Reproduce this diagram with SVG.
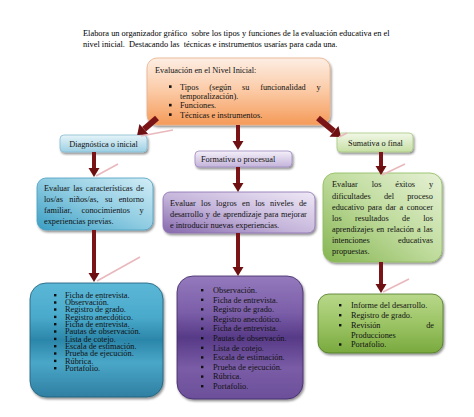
<svg xmlns="http://www.w3.org/2000/svg" width="474" height="417" viewBox="0 0 474 417">
<defs>
<style>
text{font-family:"Liberation Serif","Times New Roman",serif;font-size:8.3px;fill:#111;}
.ttl{font-size:8.4px;fill:#000;white-space:pre;}
.sh{stroke-width:0.8;filter:url(#ds);}
.bul{fill:#111;}
.shaft{stroke:#7a1416;stroke-width:4;fill:none;}
.shaftD{stroke:#7a1416;stroke-width:6;fill:none;}
.pink{stroke:#e9b8bd;stroke-width:1.6;fill:none;}
</style>
<filter id="ds" x="-10%" y="-10%" width="125%" height="130%">
<feDropShadow dx="1.2" dy="1.8" stdDeviation="1" flood-color="#000" flood-opacity="0.45"/>
</filter>
<marker id="ah" markerUnits="userSpaceOnUse" markerWidth="12" markerHeight="14" viewBox="0 -7 10 14" refX="0" refY="0" orient="auto">
<path d="M0,-5.5 L9,0 L0,5.5 z" fill="#6e1012"/>
</marker>
<marker id="ahD" markerUnits="userSpaceOnUse" markerWidth="12" markerHeight="16" viewBox="0 -8 10 16" refX="0" refY="0" orient="auto">
<path d="M0,-7 L9,0 L0,7 z" fill="#6e1012"/>
</marker>
<linearGradient id="gOr" x1="0" y1="0" x2="0" y2="1">
<stop offset="0" stop-color="#fdeee4"/><stop offset="0.5" stop-color="#fbc9a4"/><stop offset="1" stop-color="#f59a58"/>
</linearGradient>
<linearGradient id="gBlS" x1="0" y1="0" x2="0" y2="1">
<stop offset="0" stop-color="#e6f4f9"/><stop offset="1" stop-color="#9ccfe3"/>
</linearGradient>
<linearGradient id="gPuS" x1="0" y1="0" x2="0" y2="1">
<stop offset="0" stop-color="#f4f0f9"/><stop offset="1" stop-color="#c3b3da"/>
</linearGradient>
<linearGradient id="gGrS" x1="0" y1="0" x2="0" y2="1">
<stop offset="0" stop-color="#f2f8e8"/><stop offset="1" stop-color="#c6dfa4"/>
</linearGradient>
<linearGradient id="gBlD" x1="0" y1="1" x2="1" y2="0">
<stop offset="0" stop-color="#3a9ec3"/><stop offset="0.5" stop-color="#8fcce2"/><stop offset="1" stop-color="#d2edf6"/>
</linearGradient>
<linearGradient id="gPuD" x1="0" y1="1" x2="1" y2="0">
<stop offset="0" stop-color="#8568ad"/><stop offset="0.45" stop-color="#c4b4da"/><stop offset="1" stop-color="#efe9f6"/>
</linearGradient>
<linearGradient id="gGrD" x1="0" y1="1" x2="1" y2="0">
<stop offset="0" stop-color="#86b552"/><stop offset="0.5" stop-color="#bfdb9c"/><stop offset="1" stop-color="#e6f1d6"/>
</linearGradient>
<linearGradient id="gBlL" x1="0" y1="0" x2="0" y2="1">
<stop offset="0" stop-color="#5cb7d6"/><stop offset="0.3" stop-color="#4aaacc"/><stop offset="0.5" stop-color="#2b86aa"/><stop offset="0.7" stop-color="#4aa7c8"/><stop offset="1" stop-color="#2f7fa2"/>
</linearGradient>
<linearGradient id="gPuL" x1="0" y1="0" x2="0" y2="1">
<stop offset="0" stop-color="#9479bd"/><stop offset="0.3" stop-color="#7b5ea8"/><stop offset="0.5" stop-color="#573a87"/><stop offset="0.75" stop-color="#7a5ca6"/><stop offset="1" stop-color="#6c4f9a"/>
</linearGradient>
<linearGradient id="gGrL" x1="0" y1="0" x2="0" y2="1">
<stop offset="0" stop-color="#b8d88a"/><stop offset="0.5" stop-color="#9cc465"/><stop offset="1" stop-color="#79a93e"/>
</linearGradient>
</defs>
<rect width="474" height="417" fill="#ffffff"/>

<g id="title">
<text class="ttl" x="83" y="36">Elabora un organizador gráfico  sobre los tipos y funciones de la evaluación educativa en el</text>
<text class="ttl" x="83" y="47">nivel inicial.  Destacando las  técnicas e instrumentos usarías para cada una.</text>
</g>

<g id="node-root">
<rect class="sh" x="147" y="58" width="183" height="67" rx="10" fill="url(#gOr)" stroke="#eab08a"/>
<text x="155" y="73">Evaluación en el Nivel Inicial:</text>
<rect class="bul" x="169" y="85.3" width="2.6" height="2.6"/>
<text x="180" y="89.5" word-spacing="8.6">Tipos (según su funcionalidad y</text>
<text x="180" y="98.5">temporalización).</text>
<rect class="bul" x="169" y="103.8" width="2.6" height="2.6"/>
<text x="180" y="108">Funciones.</text>
<rect class="bul" x="169" y="113.3" width="2.6" height="2.6"/>
<text x="180" y="117.5">Técnicas e instrumentos.</text>
</g>

<g id="node-diagnostica">
<rect class="sh" x="60" y="135" width="87" height="17" rx="4" fill="url(#gBlS)" stroke="#86bdd2"/>
<text x="103.5" y="146.5" text-anchor="middle">Diagnóstica o inicial</text>
</g>

<g id="node-formativa">
<rect class="sh" x="195" y="151" width="97" height="16" rx="4" fill="url(#gPuS)" stroke="#9d8abf"/>
<text x="201" y="162">Formativa o procesual</text>
</g>

<g id="node-sumativa">
<rect class="sh" x="337" y="133" width="76" height="19" rx="4" fill="url(#gGrS)" stroke="#a7c882"/>
<text x="375.5" y="145.5" text-anchor="middle">Sumativa o final</text>
</g>

<g id="node-desc-diag">
<rect class="sh" x="37" y="178" width="116" height="52" rx="9" fill="url(#gBlD)" stroke="#4aa0c2"/>
<text x="44" y="191" word-spacing="1.3">Evaluar las características de</text>
<text x="44" y="202" word-spacing="4.3">los/as niños/as, su entorno</text>
<text x="44" y="213" word-spacing="7.5">familiar, conocimientos y</text>
<text x="44" y="224">experiencias previas.</text>
</g>

<g id="node-desc-form">
<rect class="sh" x="163" y="192" width="152" height="41" rx="7" fill="url(#gPuD)" stroke="#8a70b0"/>
<text x="170" y="206" word-spacing="3.2">Evaluar los logros en los niveles de</text>
<text x="170" y="217" word-spacing="0.6">desarrollo y de aprendizaje para mejorar</text>
<text x="170" y="228">e introducir nuevas experiencias.</text>
</g>

<g id="node-desc-sum">
<rect class="sh" x="323" y="173" width="119" height="89" rx="12" fill="url(#gGrD)" stroke="#8ebb5c"/>
<text x="332" y="187" word-spacing="11.8">Evaluar los éxitos y</text>
<text x="332" y="198.5" word-spacing="11.1">dificultades del proceso</text>
<text x="332" y="209.5" word-spacing="1.4">educativo para dar a conocer</text>
<text x="332" y="221" word-spacing="11.3">los resultados de los</text>
<text x="332" y="232" word-spacing="0.9">aprendizajes en relación a las</text>
<text x="332" y="243" word-spacing="26.1">intenciones educativas</text>
<text x="332" y="253.5">propuestas.</text>
</g>

<g id="node-list-diag">
<rect class="sh" x="30" y="283" width="133" height="114" rx="16" fill="url(#gBlL)" stroke="#1f5e78"/>
<g class="bul">
<rect x="54" y="294" width="2.4" height="2.4"/><rect x="54" y="301.3" width="2.4" height="2.4"/><rect x="54" y="308.3" width="2.4" height="2.4"/><rect x="54" y="315.7" width="2.4" height="2.4"/><rect x="54" y="323" width="2.4" height="2.4"/><rect x="54" y="330.3" width="2.4" height="2.4"/><rect x="54" y="337.7" width="2.4" height="2.4"/><rect x="54" y="345" width="2.4" height="2.4"/><rect x="54" y="352.3" width="2.4" height="2.4"/><rect x="54" y="359.7" width="2.4" height="2.4"/><rect x="54" y="367" width="2.4" height="2.4"/>
</g>
<g transform="scale(1,0.9)">
<text x="65" y="331.11">Ficha de entrevista.</text>
<text x="65" y="339.22">Observación.</text>
<text x="65" y="347">Registro de grado.</text>
<text x="65" y="355.22">Registro anecdótico.</text>
<text x="65" y="363.33">Ficha de entrevista.</text>
<text x="65" y="371.44">Pautas de observación.</text>
<text x="65" y="379.67">Lista de cotejo.</text>
<text x="65" y="387.78">Escala de estimación.</text>
<text x="65" y="395.89">Prueba de ejecución.</text>
<text x="65" y="404.11">Rúbrica.</text>
<text x="65" y="412.22">Portafolio.</text>
</g>
</g>

<g id="node-list-form">
<rect class="sh" x="177" y="276" width="126" height="123" rx="16" fill="url(#gPuL)" stroke="#3f2a66"/>
<g class="bul">
<rect x="201" y="289" width="2.4" height="2.4"/><rect x="201" y="298.6" width="2.4" height="2.4"/><rect x="201" y="308.2" width="2.4" height="2.4"/><rect x="201" y="317.8" width="2.4" height="2.4"/><rect x="201" y="327.4" width="2.4" height="2.4"/><rect x="201" y="337" width="2.4" height="2.4"/><rect x="201" y="346.6" width="2.4" height="2.4"/><rect x="201" y="356.2" width="2.4" height="2.4"/><rect x="201" y="365.8" width="2.4" height="2.4"/><rect x="201" y="375.4" width="2.4" height="2.4"/><rect x="201" y="385" width="2.4" height="2.4"/>
</g>
<text x="213" y="293">Observación.</text>
<text x="213" y="302.6">Ficha de entrevista.</text>
<text x="213" y="312.2">Registro de grado.</text>
<text x="213" y="321.8">Registro anecdótico.</text>
<text x="213" y="331.4">Ficha de entrevista.</text>
<text x="213" y="341">Pautas de observacón.</text>
<text x="213" y="350.6">Lista de cotejo.</text>
<text x="213" y="360.2">Escala de estimación.</text>
<text x="213" y="369.8">Prueba de ejecución.</text>
<text x="213" y="379.4">Rúbrica.</text>
<text x="213" y="389">Portafolio.</text>
</g>

<g id="node-list-sum">
<rect class="sh" x="318" y="294" width="125" height="59" rx="11" fill="url(#gGrL)" stroke="#4f7a26"/>
<g class="bul">
<rect x="339" y="304" width="2.4" height="2.4"/><rect x="339" y="314" width="2.4" height="2.4"/><rect x="339" y="324" width="2.4" height="2.4"/><rect x="339" y="343.3" width="2.4" height="2.4"/>
</g>
<text x="351" y="308">Informe del desarrollo.</text>
<text x="351" y="318">Registro de grado.</text>
<text x="351" y="328" word-spacing="43.6">Revisión de</text>
<text x="351" y="338">Producciones</text>
<text x="351" y="347.3">Portafolio.</text>
</g>

<g id="connectors">
<line class="shaftD" x1="157" y1="118" x2="144" y2="129.2" marker-end="url(#ahD)"/>
<line class="shaftD" x1="318" y1="118" x2="334" y2="131.3" marker-end="url(#ahD)"/>
<line class="shaft" x1="238" y1="125" x2="238" y2="141" marker-end="url(#ah)"/>
<line class="shaft" x1="94" y1="152" x2="94" y2="168" marker-end="url(#ah)"/>
<line class="shaft" x1="238" y1="167" x2="238" y2="183" marker-end="url(#ah)"/>
<line class="shaft" x1="381" y1="152" x2="381" y2="166" marker-end="url(#ah)"/>
<line class="shaft" x1="94" y1="230" x2="94" y2="273" marker-end="url(#ah)"/>
<line class="shaft" x1="238" y1="233" x2="238" y2="267" marker-end="url(#ah)"/>
<line class="shaft" x1="381" y1="262" x2="381" y2="284" marker-end="url(#ah)"/>
<line class="pink" x1="141" y1="136" x2="173" y2="130"/>
<line class="pink" x1="339" y1="137" x2="347" y2="133"/>
<line class="pink" x1="96" y1="176" x2="118" y2="164"/>
<line class="pink" x1="382" y1="175" x2="405" y2="164"/>
<line class="pink" x1="97" y1="281" x2="140" y2="257"/>
<line class="pink" x1="383" y1="292" x2="409" y2="279"/>
</g>
</svg>
